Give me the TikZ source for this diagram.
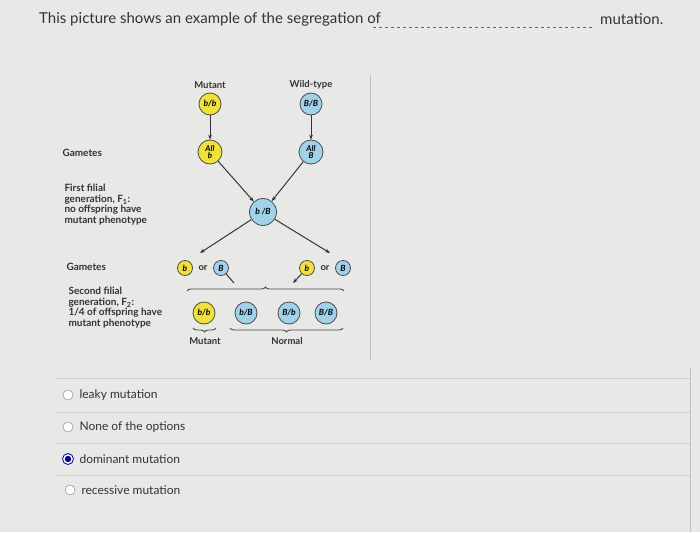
\documentclass[tikz,border=0pt]{standalone}
\usepackage{fontspec}
\setmainfont{Lato}
\usetikzlibrary{arrows.meta,decorations.pathreplacing}
\definecolor{bg}{HTML}{E8E8E6}
\definecolor{yel}{HTML}{F2E233}
\definecolor{blu}{HTML}{9FD3EC}
\definecolor{txt}{HTML}{333333}
\tikzset{
  x=1pt,y=-1pt,
  yc/.style={circle,draw=black!70,fill=yel,line width=0.8pt,inner sep=0pt,minimum size=#1,font=\fontsize{8.5}{9}\selectfont\bfseries\itshape},
  bc/.style={circle,draw=black!70,fill=blu,line width=0.8pt,inner sep=0pt,minimum size=#1,font=\fontsize{8.5}{9}\selectfont\bfseries\itshape},
  lab/.style={font=\fontsize{9.5}{10.5}\selectfont\bfseries,text=txt},
  side/.style={font=\fontsize{10}{10.5}\selectfont\bfseries,text=txt,align=left,anchor=north west},
  arr/.style={-{Stealth[length=5pt]},line width=1pt,draw=black!80},
  opt/.style={font=\fontsize{12}{14}\selectfont,text=txt,anchor=west},
  rad/.style={circle,draw=black!50,fill=white,minimum size=10pt,inner sep=0pt},
  sep/.style={draw=black!20,line width=0.6pt},
  brc/.style={decorate,decoration={brace,amplitude=4pt},line width=0.9pt,draw=black!70}
}
\begin{document}
\begin{tikzpicture}
\fill[bg] (0,0) rectangle (700,532);
\useasboundingbox (0,0) rectangle (700,532);
% title
\node[anchor=west,font=\fontsize{15}{17}\selectfont,text=txt,inner sep=0pt] (title) at (39,19) {This picture shows an example of the segregation of};
\draw[black!60,dashed,line width=0.5pt] (373,27) -- (595,27);
\node[anchor=west,font=\fontsize{15}{17}\selectfont,text=txt,inner sep=0pt] (mut) at (600,19) {mutation.};
% panel line
\draw[black!25,line width=0.8pt] (370,75) -- (370,360);
% diagram
\node[lab] (lm) at (210,85) {Mutant};
\node[lab] (lw) at (311,85) {Wild-type};
\node[yc=22pt] (bb) at (210,104) {b/b};
\node[bc=22pt] (BB) at (311,104) {B/B};
\node[yc=24pt,align=center,font=\fontsize{8}{7.5}\selectfont\bfseries\itshape] (allb) at (210,152) {All\\b};
\node[bc=24pt,align=center,font=\fontsize{8}{7.5}\selectfont\bfseries\itshape] (allB) at (311,152) {All\\B};
\node[bc=27pt] (f1) at (263,212) {b /B};
\draw[arr] (bb) -- (allb);
\draw[arr] (BB) -- (allB);
\draw[arr] (allb) -- (f1);
\draw[arr] (allB) -- (f1);
\node[yc=15pt] (g1) at (185,268) {b};
\node[lab] (or1) at (203,268) {or};
\node[bc=15pt] (g2) at (221,268) {B};
\node[yc=15pt] (g3) at (307,268) {b};
\node[lab] (or2) at (325,268) {or};
\node[bc=15pt] (g4) at (343,268) {B};
\coordinate (gl) at (200,253);
\coordinate (gr) at (330,253);
\draw[arr] (f1) -- (gl);
\draw[arr] (f1) -- (gr);
\coordinate (bl) at (234,283);
\coordinate (br) at (293,283);
\draw[line width=1pt,draw=black!80] (g2) -- (bl);
\draw[arr] (g3) -- (br);
\draw[brc] (187,291) -- (344,291);
\node[yc=22pt] (o1) at (204,313) {b/b};
\node[bc=22pt] (o2) at (246,313) {b/B};
\node[bc=22pt] (o3) at (289,313) {B/b};
\node[bc=22pt] (o4) at (326,313) {B/B};
\draw[brc] (216,328) -- (193,328);
\draw[brc] (343,328) -- (230,328);
\node[lab] (mm) at (205,341) {Mutant};
\node[lab] (nn) at (287,341) {Normal};
% side labels
\node[side] (s1) at (59,146) {Gametes};
\node[side] (s2) at (61,181) {First filial\\generation, F\textsubscript{1}:\\no offspring have\\mutant phenotype};
\node[side] (s3) at (63,260) {Gametes};
\node[side] (s4) at (65,284) {Second filial\\generation, F\textsubscript{2}:\\1/4 of offspring have\\mutant phenotype};
% options
\draw[sep] (55,378) -- (690,378);
\draw[sep] (55,412) -- (690,412);
\draw[sep] (55,443) -- (690,443);
\draw[sep] (55,475) -- (690,475);
\draw[black!25,line width=0.8pt] (690,368) -- (690,532);
\node[rad] (r1) at (68,395) {};
\node[opt] (t1) at (76,395) {leaky mutation};
\node[rad] (r2) at (68,427) {};
\node[opt] (t2) at (76,427) {None of the options};
\node[circle,draw=blue!60!black,fill=white,minimum size=11pt,inner sep=0pt,line width=0.8pt] (r3) at (68,459) {};
\fill[blue!70!black] (r3.center) circle (3.2pt);
\node[opt] (t3) at (76,459) {dominant mutation};
\node[rad] (r4) at (70,490) {};
\node[opt] (t4) at (78,490) {recessive mutation};
\end{tikzpicture}
\end{document}
